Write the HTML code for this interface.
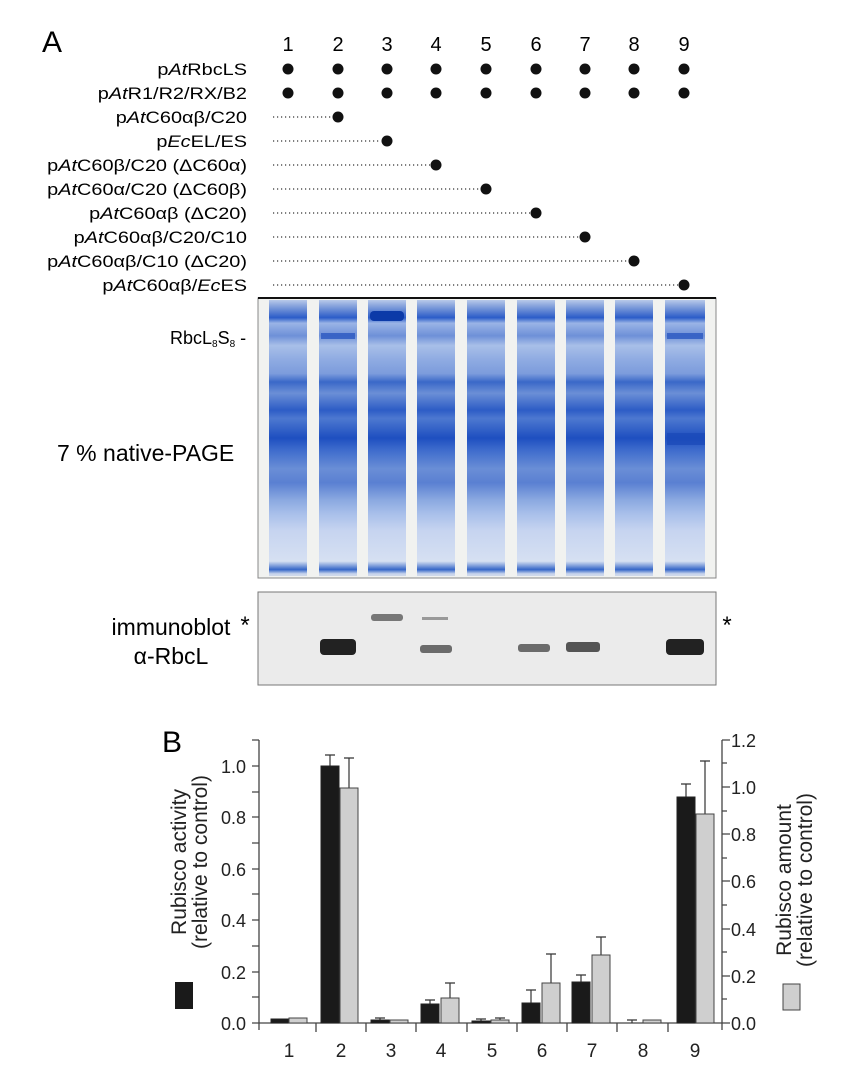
<!DOCTYPE html>
<html><head><meta charset="utf-8"><style>
body{margin:0;background:#fff;}
svg{display:block;font-family:"Liberation Sans",Arial,sans-serif;}
</style></head><body>
<svg width="857" height="1073" viewBox="0 0 857 1073">
<defs>
<linearGradient id="lane" gradientUnits="userSpaceOnUse" x1="0" y1="298" x2="0" y2="578">
<stop offset="0" stop-color="#c8d6ee"/>
<stop offset="0.025" stop-color="#8fa9de"/>
<stop offset="0.07" stop-color="#2b5cc8"/>
<stop offset="0.09" stop-color="#9ab4e6"/>
<stop offset="0.135" stop-color="#6e90d8"/>
<stop offset="0.17" stop-color="#a8bfe8"/>
<stop offset="0.22" stop-color="#8fabe2"/>
<stop offset="0.27" stop-color="#7c9cdc"/>
<stop offset="0.30" stop-color="#3a68c8"/>
<stop offset="0.34" stop-color="#6b8fd6"/>
<stop offset="0.40" stop-color="#2d5cc6"/>
<stop offset="0.43" stop-color="#4d78d0"/>
<stop offset="0.50" stop-color="#1e4fc0"/>
<stop offset="0.54" stop-color="#3c6acc"/>
<stop offset="0.61" stop-color="#6a8ed6"/>
<stop offset="0.66" stop-color="#5a80d2"/>
<stop offset="0.72" stop-color="#8aa8e0"/>
<stop offset="0.77" stop-color="#a8bfea"/>
<stop offset="0.83" stop-color="#c6d4f0"/>
<stop offset="0.94" stop-color="#d6e0f2"/>
<stop offset="0.97" stop-color="#3566c8"/>
<stop offset="0.985" stop-color="#c8d4ec"/>
<stop offset="1" stop-color="#d8dde6"/>
</linearGradient>
</defs>

<text x="42" y="52" font-size="30">A</text>
<g font-size="20" text-anchor="middle">
<text x="288" y="51">1</text><text x="338" y="51">2</text><text x="387" y="51">3</text><text x="436" y="51">4</text><text x="486" y="51">5</text><text x="536" y="51">6</text><text x="585" y="51">7</text><text x="634" y="51">8</text><text x="684" y="51">9</text>
</g>
<g font-size="17" text-anchor="end" transform="translate(247,0) scale(1.17,1) translate(-247,0)">
<text x="247" y="75">p<tspan font-style="italic">At</tspan>RbcLS</text>
<text x="247" y="99">p<tspan font-style="italic">At</tspan>R1/R2/RX/B2</text>
<text x="247" y="123">p<tspan font-style="italic">At</tspan>C60αβ/C20</text>
<text x="247" y="147">p<tspan font-style="italic">Ec</tspan>EL/ES</text>
<text x="247" y="171">p<tspan font-style="italic">At</tspan>C60β/C20 (ΔC60α)</text>
<text x="247" y="195">p<tspan font-style="italic">At</tspan>C60α/C20 (ΔC60β)</text>
<text x="247" y="219">p<tspan font-style="italic">At</tspan>C60αβ (ΔC20)</text>
<text x="247" y="243">p<tspan font-style="italic">At</tspan>C60αβ/C20/C10</text>
<text x="247" y="267">p<tspan font-style="italic">At</tspan>C60αβ/C10 (ΔC20)</text>
<text x="247" y="291">p<tspan font-style="italic">At</tspan>C60αβ/<tspan font-style="italic">Ec</tspan>ES</text>
</g>
<g fill="#111">
<g id="r1"><circle cx="288" cy="69" r="5.5"/><circle cx="338" cy="69" r="5.5"/><circle cx="387" cy="69" r="5.5"/><circle cx="436" cy="69" r="5.5"/><circle cx="486" cy="69" r="5.5"/><circle cx="536" cy="69" r="5.5"/><circle cx="585" cy="69" r="5.5"/><circle cx="634" cy="69" r="5.5"/><circle cx="684" cy="69" r="5.5"/></g>
<use href="#r1" y="24"/>
<circle cx="338" cy="117" r="5.5"/><circle cx="387" cy="141" r="5.5"/><circle cx="436" cy="165" r="5.5"/><circle cx="486" cy="189" r="5.5"/><circle cx="536" cy="213" r="5.5"/><circle cx="585" cy="237" r="5.5"/><circle cx="634" cy="261" r="5.5"/><circle cx="684" cy="285" r="5.5"/>
</g>
<g stroke="#333" stroke-width="1.2" stroke-dasharray="1.2 2.8">
<line x1="273" y1="117" x2="332" y2="117"/><line x1="273" y1="141" x2="381" y2="141"/><line x1="273" y1="165" x2="430" y2="165"/><line x1="273" y1="189" x2="480" y2="189"/><line x1="273" y1="213" x2="530" y2="213"/><line x1="273" y1="237" x2="579" y2="237"/><line x1="273" y1="261" x2="628" y2="261"/><line x1="273" y1="285" x2="678" y2="285"/>
</g>

<rect x="258" y="298" width="458" height="280" fill="#f1f2f0" stroke="#888" stroke-width="1"/>
<line x1="258" y1="298" x2="716" y2="298" stroke="#111" stroke-width="2"/>
<g fill="url(#lane)">
<rect x="269" y="300" width="38" height="276"/><rect x="319" y="300" width="38" height="276"/><rect x="368" y="300" width="38" height="276"/><rect x="417" y="300" width="38" height="276"/><rect x="467" y="300" width="38" height="276"/><rect x="517" y="300" width="38" height="276"/><rect x="566" y="300" width="38" height="276"/><rect x="615" y="300" width="38" height="276"/><rect x="665" y="300" width="40" height="276"/>
</g>
<rect x="370" y="311" width="34" height="10" rx="4" fill="#0c3aa8"/>
<rect x="321" y="333" width="34" height="6" fill="#2a58c0" opacity="0.8"/>
<rect x="667" y="333" width="36" height="6" fill="#2a58c0" opacity="0.8"/>
<rect x="667" y="433" width="38" height="12" fill="#1a48b8" opacity="0.7"/>
<text x="170" y="344" font-size="18">RbcL<tspan font-size="10" dy="3">8</tspan><tspan dy="-3">S</tspan><tspan font-size="10" dy="3">8</tspan><tspan dy="-3"> -</tspan></text>
<text x="57" y="461" font-size="23">7 % native-PAGE</text>

<rect x="258" y="592" width="458" height="93" fill="#ebebeb" stroke="#777" stroke-width="1"/>
<g fill="#222">
<rect x="320" y="639" width="36" height="16" rx="4"/>
<rect x="666" y="639" width="38" height="16" rx="4"/>
</g>
<rect x="420" y="645" width="32" height="8" rx="3" fill="#555" opacity="0.85"/>
<rect x="518" y="644" width="32" height="8" rx="3" fill="#555" opacity="0.85"/>
<rect x="566" y="642" width="34" height="10" rx="3" fill="#444" opacity="0.9"/>
<rect x="371" y="614" width="32" height="7" rx="3" fill="#777"/>
<rect x="422" y="617" width="26" height="3" fill="#999"/>
<text x="245" y="633" font-size="24" text-anchor="middle">*</text>
<text x="727" y="633" font-size="24" text-anchor="middle">*</text>
<text x="171" y="635" font-size="23" text-anchor="middle">immunoblot</text>
<text x="171" y="664" font-size="23" text-anchor="middle">α-RbcL</text>

<text x="162" y="752" font-size="30">B</text>
<g stroke="#444" stroke-width="1.3" fill="none">
<line x1="259" y1="740" x2="259" y2="1030"/>
<line x1="722" y1="740" x2="722" y2="1030"/>
<line x1="259" y1="1023" x2="722" y2="1023"/>
<path d="M252 1023h7M252 997h7M252 972h7M252 946h7M252 920h7M252 894h7M252 869h7M252 843h7M252 817h7M252 792h7M252 766h7M252 740h7"/>
<path d="M722 1023h8M722 999h5M722 976h8M722 952h5M722 929h8M722 905h5M722 881h8M722 858h5M722 834h8M722 811h5M722 787h8M722 763h5M722 740h8"/>
<path d="M316 1023v9M366 1023v9M416 1023v9M467 1023v9M517 1023v9M567 1023v9M617 1023v9M668 1023v9"/>
</g>
<g font-size="18" text-anchor="end" fill="#222">
<text x="246" y="1030">0.0</text><text x="246" y="979">0.2</text><text x="246" y="927">0.4</text><text x="246" y="876">0.6</text><text x="246" y="824">0.8</text><text x="246" y="773">1.0</text>
</g>
<g font-size="18" fill="#222">
<text x="731" y="1030">0.0</text><text x="731" y="983">0.2</text><text x="731" y="936">0.4</text><text x="731" y="888">0.6</text><text x="731" y="841">0.8</text><text x="731" y="794">1.0</text><text x="731" y="747">1.2</text>
</g>
<g font-size="19" text-anchor="middle" fill="#222">
<text x="289" y="1057">1</text><text x="341" y="1057">2</text><text x="391" y="1057">3</text><text x="441" y="1057">4</text><text x="492" y="1057">5</text><text x="542" y="1057">6</text><text x="592" y="1057">7</text><text x="643" y="1057">8</text><text x="695" y="1057">9</text>
</g>
<g stroke="#333" stroke-width="1.2">
<path d="M330 766v-11M325 755h10M349 788v-30M344 758h10"/>
<path d="M430 1004v-4M425 1000h10M450 998v-15M445 983h10"/>
<path d="M531 1003v-13M526 990h10M551 983v-29M546 954h10"/>
<path d="M581 982v-7M576 975h10M601 955v-18M596 937h10"/>
<path d="M686 797v-13M681 784h10M705 814v-53M700 761h10"/>
<path d="M380 1021v-3M375 1018h10M481 1022v-3M476 1019h10M500 1021v-3M495 1018h10M632 1023v-3M627 1020h10"/>
</g>
<g fill="#1a1a1a" stroke="#222" stroke-width="1">
<rect x="271" y="1019" width="18" height="4"/>
<rect x="321" y="766" width="18" height="257"/>
<rect x="371" y="1020" width="18" height="3"/>
<rect x="421" y="1004" width="18" height="19"/>
<rect x="472" y="1021" width="18" height="2"/>
<rect x="522" y="1003" width="18" height="20"/>
<rect x="572" y="982" width="18" height="41"/>
<rect x="677" y="797" width="18" height="226"/>
</g>
<g fill="#cfcfcf" stroke="#444" stroke-width="1">
<rect x="289" y="1018" width="18" height="5"/>
<rect x="340" y="788" width="18" height="235"/>
<rect x="390" y="1020" width="18" height="3"/>
<rect x="441" y="998" width="18" height="25"/>
<rect x="491" y="1020" width="18" height="3"/>
<rect x="542" y="983" width="18" height="40"/>
<rect x="592" y="955" width="18" height="68"/>
<rect x="643" y="1020" width="18" height="3"/>
<rect x="696" y="814" width="18" height="209"/>
</g>
<g font-size="21" fill="#222" text-anchor="middle">
<text transform="translate(186,862) rotate(-90)">Rubisco activity</text>
<text transform="translate(207,862) rotate(-90)">(relative to control)</text>
<text transform="translate(791,880) rotate(-90)">Rubisco amount</text>
<text transform="translate(812,880) rotate(-90)">(relative to control)</text>
</g>
<rect x="175" y="982" width="18" height="27" fill="#1a1a1a"/>
<rect x="783" y="984" width="17" height="26" fill="#cfcfcf" stroke="#444"/>
</svg>
</body></html>
